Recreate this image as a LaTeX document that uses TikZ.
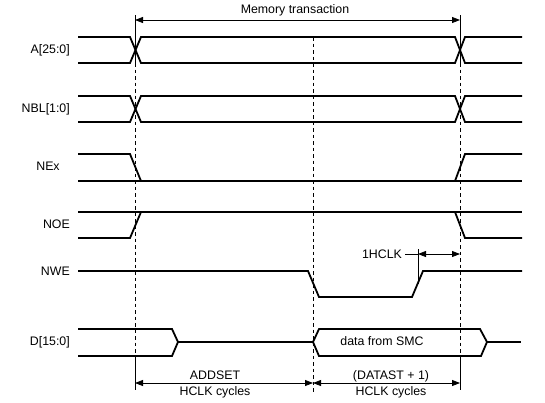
\documentclass[tikz,border=0pt]{standalone}
\usepackage{fontspec}
\setmainfont{Liberation Sans}
\usetikzlibrary{arrows.meta}

\begin{document}
\begin{tikzpicture}[>={Triangle[length=8bp,width=6bp]}, x=1bp, y=-1bp,
    font=\fontsize{12.4}{16}\selectfont,
    sig/.style={line width=1.8bp, line join=miter},
    dim/.style={line width=0.8bp},
    guide/.style={line width=0.8bp, dash pattern=on 3.5bp off 3bp}]
        \useasboundingbox (0,0) rectangle (545,402);
        % signal names
        \foreach \y/\name/\lbl in {
            50/lblA/A[25:0],
            109/lblNBL/NBL[1:0],
            224/lblNOE/NOE,
            271/lblNWE/NWE,
            342/lblD/D[15:0]
        }{
            \node[anchor=east, inner sep=0pt] (\name) at (70,\y) {\lbl};
        }
        \node[inner sep=0pt] (lblNE) at (48,166) {NEx};
        % address and byte lanes
        \foreach \hi/\lo in {37/63, 96/122}{
            \draw[sig] (78,\hi) -- (130,\hi) -- (141,\lo) -- (455,\lo) -- (465,\hi) -- (522,\hi);
            \draw[sig] (78,\lo) -- (130,\lo) -- (141,\hi) -- (455,\hi) -- (465,\lo) -- (522,\lo);
        }
        % NEx
        \draw[sig] (78,154) -- (130,154) -- (141,181);
        \draw[sig] (78,181) -- (522,181);
        \draw[sig] (455,181) -- (465,154) -- (522,154);
        % NOE
        \draw[sig] (78,238) -- (130,238) -- (141,212);
        \draw[sig] (78,212) -- (522,212);
        \draw[sig] (455,212) -- (465,238) -- (522,238);
        % NWE
        \draw[sig] (78,271) -- (308,271) -- (319,297) -- (412,297) -- (423,271) -- (522,271);
        % data bus
        \draw[sig] (78,329) -- (172,329) -- (178,342) -- (172,356) -- (78,356);
        \draw[sig] (178,342) -- (313,342);
        \draw[sig] (313,342) -- (319,329) -- (480,329) -- (487,342) -- (481,356) -- (319,356) -- cycle;
        \draw[sig] (487,342) -- (521,342);
        \node (dataSMC) at (382,341) {data from SMC};
        % timing guides
        \foreach \x in {135,460}{
            \draw[dim] (\x,15) -- (\x,63);
            \draw[guide] (\x,63) -- (\x,357);
            \draw[dim] (\x,357) -- (\x,390);
        }
        \draw[guide] (313,37) -- (313,392);
        % memory transaction
        \coordinate (mtL) at (135,20);
        \coordinate (mtR) at (460,20);
        \draw[dim, <->] (mtL) -- (mtR);
        \node (title) at (295,10) {Memory transaction};
        % 1HCLK
        \coordinate (hcTop) at (418,249);
        \coordinate (hcBot) at (418,284);
        \coordinate (hcL) at (418,254);
        \coordinate (hcR) at (460,254);
        \node (hclk) at (382,254) {1HCLK};
        \draw[dim] (hcTop) -- (hcBot);
        \draw[dim] (hclk.east) -- (hcL);
        \draw[dim, <->] (hcL) -- (hcR);
        % phase durations
        \coordinate (phA) at (135,383);
        \coordinate (phB) at (313,383);
        \coordinate (phC) at (460,383);
        \draw[dim, <->] (phA) -- (phB);
        \draw[dim, <->] (phB) -- (phC);
        \node[align=center] (addset) at (215,384) {ADDSET\\HCLK cycles};
        \node[align=center] (datast) at (391,384) {(DATAST + 1)\\HCLK cycles};
    \end{tikzpicture}
\end{document}
